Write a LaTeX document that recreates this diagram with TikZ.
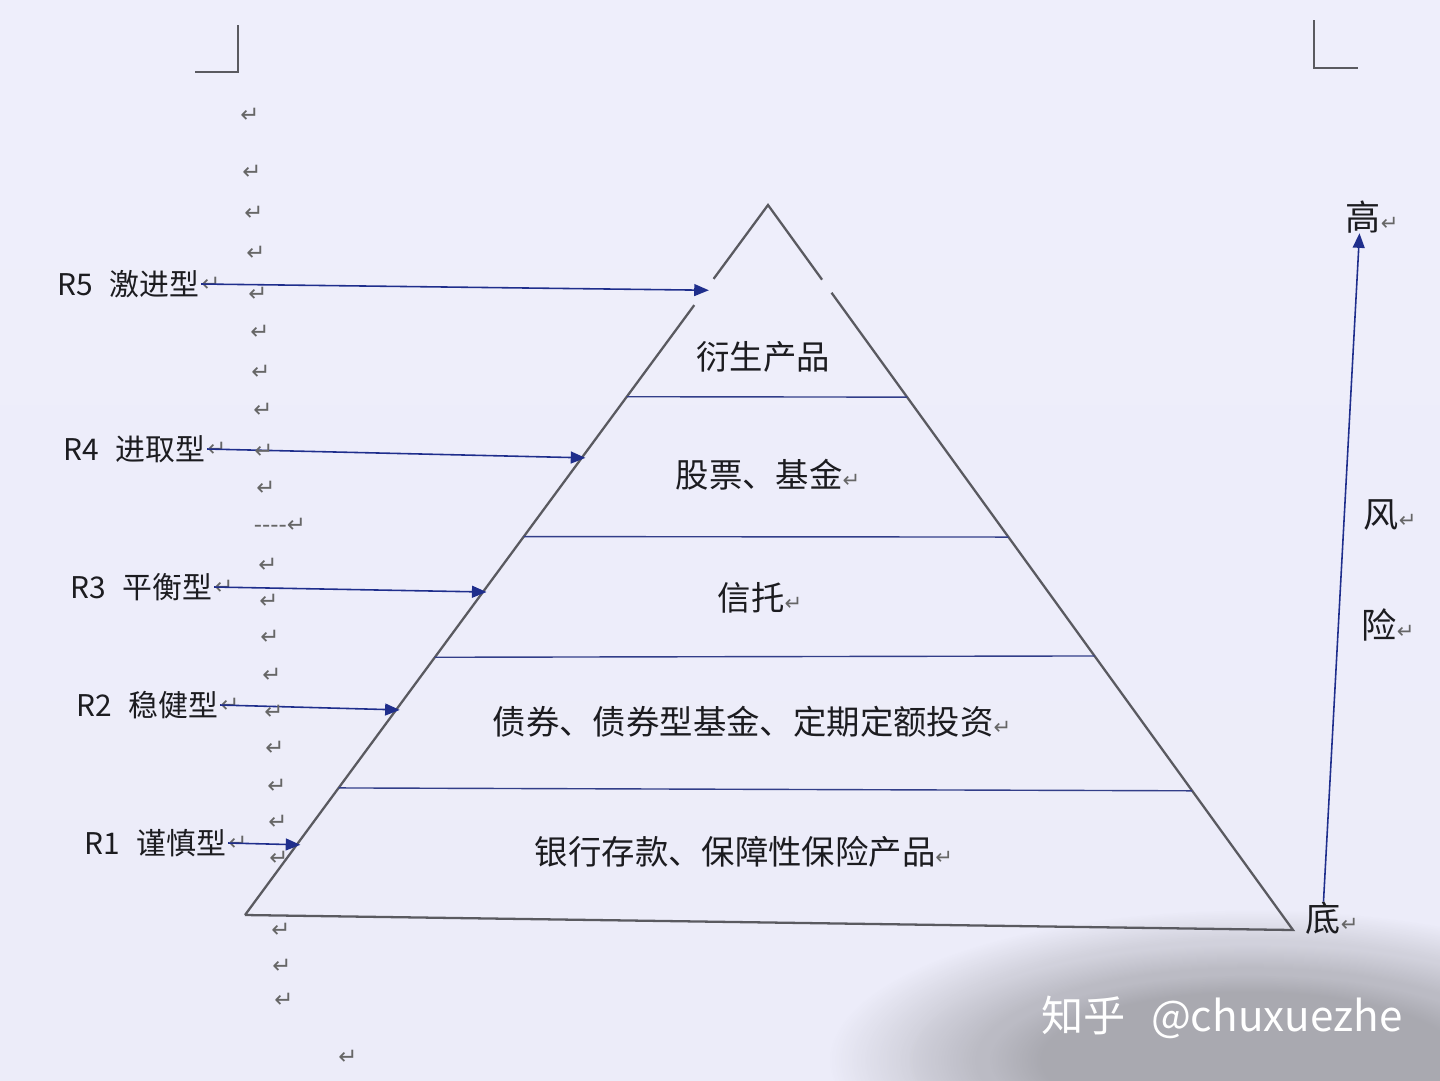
\documentclass[tikz,border=0pt]{standalone}
\usepackage{fontspec}
\setmainfont{Noto Sans CJK SC}
\newfontfamily\markfont{DejaVu Sans}
\usetikzlibrary{arrows,positioning,calc,fadings}

\definecolor{navy}{HTML}{1F2E8C}
\definecolor{edge}{HTML}{5A5A60}
\definecolor{ink}{HTML}{1C1C20}
\newcommand\retmark{{\color{gray!80!black}\markfont\fontsize{12}{12}\selectfont ↵}}

\begin{document}
\begin{tikzpicture}[x=0.02cm,y=-0.02cm,>=triangle 45,
    tri/.style={draw=edge,line width=1.3pt},
    band/.style={draw=navy!80!gray,line width=0.8pt},
    lvl/.style={text=ink,font=\fontsize{19}{19}\selectfont,inner sep=1pt},
    rlab/.style={text=ink,font=\fontsize{17}{17}\selectfont,inner sep=0pt,anchor=west},
    axis/.style={text=ink,font=\fontsize{20}{20}\selectfont,inner sep=1pt},
    pmark/.style={text=gray!80!black,font=\markfont\fontsize{13}{13}\selectfont,inner sep=0pt},
    link/.style={->,draw=navy,line width=0.9pt,shorten >=-2pt},
    dim/.style={fill=gray!70!black,opacity=0.18,path fading=circle with fuzzy edge 20 percent}]

  % background
  \useasboundingbox (0,0) rectangle (1440,1080);
  \shade[top color=gray!38!blue!8!white,middle color=cyan!6!white,
         bottom color=gray!50!blue!10!white] (0,0) rectangle (1440,1080);
  \foreach \rx/\ry in {420/150,340/115,260/85}
    \path[dim] (1250,1060) ellipse [x radius=\rx,y radius=\ry];

  % page corners
  \draw[edge,line width=1pt] (195,72) -- (238,72) -- (238,25);
  \draw[edge,line width=1pt] (1314,20) -- (1314,68) -- (1358,68);

  % pyramid
  \coordinate (apex) at (768,205);
  \coordinate (bl) at (245,915);
  \coordinate (br) at (1293,930);
  \draw[tri] (bl) -- ($(apex)!0.141!(bl)$)
             ($(apex)!0.104!(bl)$) -- (apex) -- ($(apex)!0.103!(br)$)
             ($(apex)!0.121!(br)$) -- (br) -- (bl);

  \draw[band] ($(apex)!0.270!(bl)$) -- ($(apex)!0.265!(br)$);
  \draw[band] ($(apex)!0.467!(bl)$) -- ($(apex)!0.458!(br)$);
  \draw[band] ($(apex)!0.637!(bl)$) -- ($(apex)!0.622!(br)$);
  \draw[band] ($(apex)!0.821!(bl)$) -- ($(apex)!0.808!(br)$);

  \node[lvl] (l5) at (763,357) {衍生产品};
  \node[lvl] (l4) at (768,475) {股票、基金\retmark};
  \node[lvl] (l3) at (760,598) {信托\retmark};
  \node[lvl] (l2) at (752,722) {债券、债券型基金、定期定额投资\retmark};
  \node[lvl] (l1) at (744,852) {银行存款、保障性保险产品\retmark};

  % investor types
  \node[rlab] (r5) at (57,284) {R5\hspace{0.55em}激进型};
  \node[rlab] (r4) at (63,449) {R4\hspace{0.55em}进取型};
  \node[rlab] (r3) at (70,587) {R3\hspace{0.55em}平衡型};
  \node[rlab] (r2) at (76,705) {R2\hspace{0.55em}稳健型};
  \node[rlab] (r1) at (84,843) {R1\hspace{0.55em}谨慎型};

  \coordinate (e5) at ($(apex)!0.120!(bl)$);
  \coordinate (e4) at ($(apex)!0.356!(bl)$);
  \coordinate (e3) at ($(apex)!0.545!(bl)$);
  \coordinate (e2) at ($(apex)!0.711!(bl)$);
  \coordinate (e1) at ($(apex)!0.901!(bl)$);

  \foreach \k in {5,4,3,2,1}{
    \node[pmark,right=1pt of r\k] (m\k) {↵};
    \draw[link] (m\k.west) -- (e\k);
  }

  % paragraph marks
  \foreach \px/\py [count=\i] in {250/115,252/172,254/213,256/253,258/294,
      260/332,261/372,263/410,264/451,266/488,268/565,269/601,270/637,
      272/675,274/712,275/748,277/786,278/822,279/858,281/930,282/966,
      284/1000,348/1057}
    \node[pmark] (p\i) at (\px,\py) {↵};
  \node[pmark] (pdash) at (280,525) {----↵};

  % risk axis
  \node[axis] (hi) at (1372,217) {高\retmark};
  \node[axis] (wind) at (1390,515) {风\retmark};
  \node[axis] (risk) at (1388,625) {险\retmark};
  \node[axis] (lo) at (1332,918) {底\retmark};
  \draw[->,draw=navy,line width=0.9pt] ($(lo.north west)+(20,2)$) -- ($(hi.south west)+(16,-2)$);

  % watermark
  \node[text=white,font=\fontsize{24}{24}\selectfont] (wm) at (1222,1017)
    {知乎\hspace{0.6em}@chuxuezhe};
\end{tikzpicture}
\end{document}
